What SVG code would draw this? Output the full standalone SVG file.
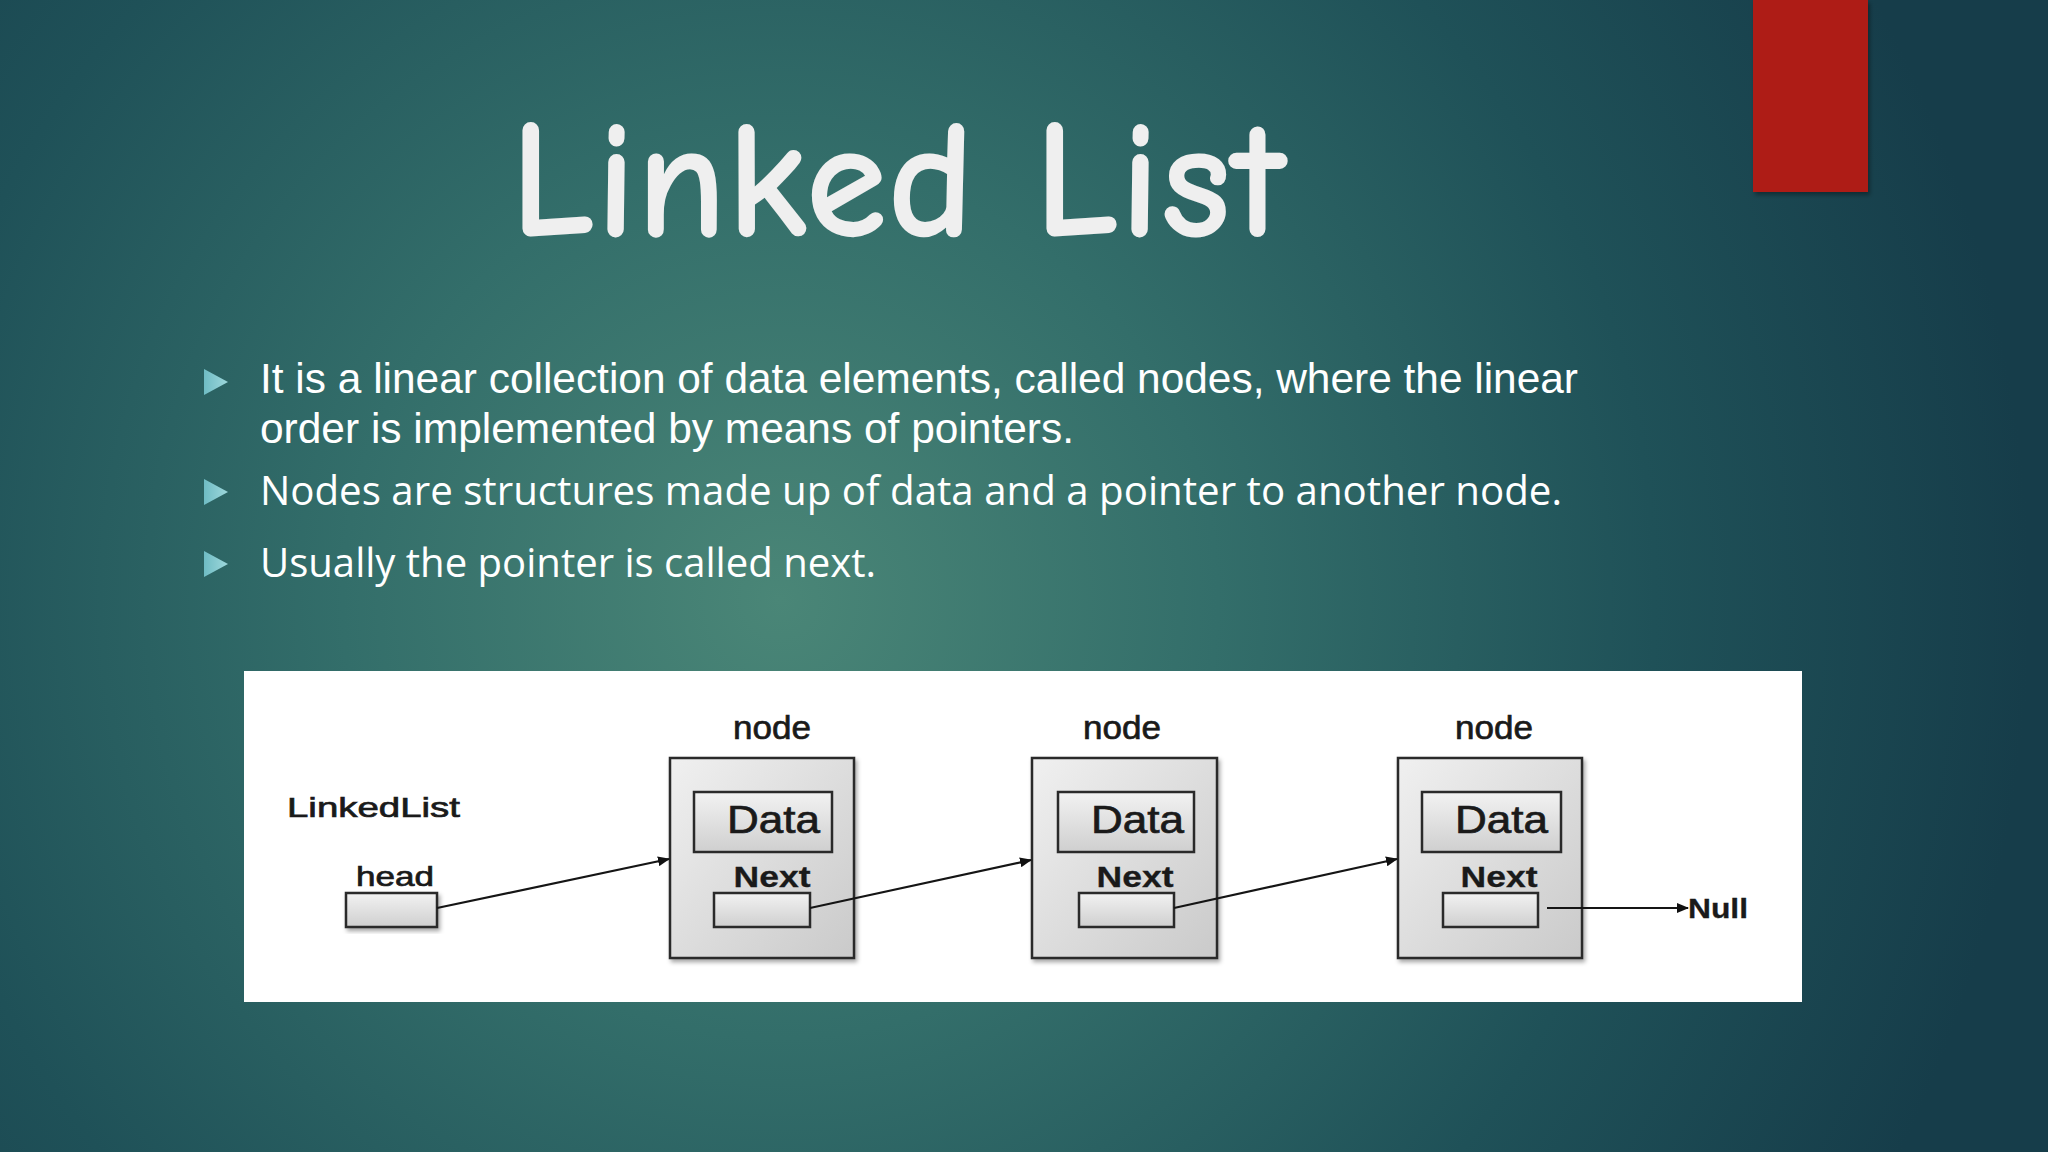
<svg xmlns="http://www.w3.org/2000/svg" width="2048" height="1152" viewBox="0 0 2048 1152">
  <defs>
    <radialGradient id="bg" cx="780" cy="600" r="1250" gradientUnits="userSpaceOnUse">
      <stop offset="0" stop-color="#4a8677"/>
      <stop offset="0.35" stop-color="#336e6a"/>
      <stop offset="0.7" stop-color="#1f5158"/>
      <stop offset="1" stop-color="#163d4a"/>
    </radialGradient>
    <linearGradient id="boxg" x1="0" y1="0" x2="1" y2="1">
      <stop offset="0" stop-color="#f0f0f0"/>
      <stop offset="1" stop-color="#cacaca"/>
    </linearGradient>
    <linearGradient id="smallg" x1="0" y1="0" x2="0" y2="1">
      <stop offset="0" stop-color="#f2f2f2"/>
      <stop offset="1" stop-color="#cfcfcf"/>
    </linearGradient>
    <linearGradient id="bullet" x1="0" y1="0" x2="1" y2="0">
      <stop offset="0" stop-color="#6fbcc4"/>
      <stop offset="1" stop-color="#9fd8dc"/>
    </linearGradient>
    <marker id="arr" viewBox="0 0 12 10" refX="11" refY="5" markerWidth="12" markerHeight="10" markerUnits="userSpaceOnUse" orient="auto">
      <path d="M0,0 L12,5 L0,10 z" fill="#111"/>
    </marker>
    <filter id="sh" x="-10%" y="-10%" width="130%" height="130%">
      <feDropShadow dx="2" dy="3" stdDeviation="2" flood-color="#000" flood-opacity="0.35"/>
    </filter>
  </defs>
  <style>
    .title { font-family: "Comic Sans MS", "Comic Neue", "DejaVu Sans", sans-serif; font-size: 168px; font-weight: bold; fill: #efefef; }
    .b1 { font-family: "Liberation Sans", Arial, sans-serif; font-size: 42px; fill: #ffffff; }
    .b2 { font-family: "Open Sans", "Noto Sans", sans-serif; font-size: 41px; fill: #ffffff; }
    .lbl { font-family: "Liberation Sans", Arial, sans-serif; fill: #1a1a1a; stroke: #1a1a1a; stroke-width: 0.7; }
    .bold { font-weight: bold; stroke-width: 0.3; }
    .outer { fill: url(#boxg); stroke: #2a2a2a; stroke-width: 2.5; }
    .inner { fill: url(#smallg); stroke: #2a2a2a; stroke-width: 2.5; }
    .conn { stroke: #151515; stroke-width: 2.2; fill: none; marker-end: url(#arr); }
  </style>

  <rect width="2048" height="1152" fill="url(#bg)"/>

  <g id="accent">
    <rect x="1753" y="0" width="115" height="192" fill="#ae1a14" filter="url(#sh)"/>
  </g>

  <g id="title">
    <text class="title" x="510" y="236" textLength="776" lengthAdjust="spacingAndGlyphs">Linked List</text>
  </g>

  <g id="bullets">
    <polygon points="204,369 228,382 204,395" fill="url(#bullet)"/>
    <text class="b1" x="260" y="393" textLength="1318" lengthAdjust="spacingAndGlyphs">It is a linear collection of data elements, called nodes, where the linear</text>
    <text class="b1" x="260" y="443" textLength="814" lengthAdjust="spacingAndGlyphs">order is implemented by means of pointers.</text>
    <polygon points="204,479 228,492 204,505" fill="url(#bullet)"/>
    <text class="b2" x="260" y="505" textLength="1302" lengthAdjust="spacingAndGlyphs">Nodes are structures made up of data and a pointer to another node.</text>
    <polygon points="204,551 228,564 204,577" fill="url(#bullet)"/>
    <text class="b2" x="260" y="577" textLength="616" lengthAdjust="spacingAndGlyphs">Usually the pointer is called next.</text>
  </g>

  <g id="panel">
    <rect x="244" y="671" width="1558" height="331" fill="#ffffff"/>
  </g>

  <g id="linkedlist">
    <text class="lbl" x="287" y="817" font-size="28" textLength="173" lengthAdjust="spacingAndGlyphs">LinkedList</text>
    <text class="lbl" x="356" y="886" font-size="28" textLength="78" lengthAdjust="spacingAndGlyphs">head</text>
    <rect class="inner" x="346" y="893" width="91" height="34" filter="url(#sh)"/>
  </g>

  <g id="node1">
    <text class="lbl" x="772" y="739" font-size="33" text-anchor="middle" textLength="78" lengthAdjust="spacingAndGlyphs">node</text>
    <rect class="outer" x="670" y="758" width="184" height="200" filter="url(#sh)"/>
    <rect class="inner" x="694" y="792" width="138" height="60"/>
    <text class="lbl" x="727" y="833" font-size="38" textLength="93" lengthAdjust="spacingAndGlyphs">Data</text>
    <text class="lbl bold" x="772" y="887" font-size="30" text-anchor="middle" textLength="77" lengthAdjust="spacingAndGlyphs">Next</text>
    <rect class="inner" x="714" y="893" width="96" height="34"/>
  </g>

  <g id="node2">
    <text class="lbl" x="1122" y="739" font-size="33" text-anchor="middle" textLength="78" lengthAdjust="spacingAndGlyphs">node</text>
    <rect class="outer" x="1032" y="758" width="185" height="200" filter="url(#sh)"/>
    <rect class="inner" x="1058" y="792" width="136" height="60"/>
    <text class="lbl" x="1091" y="833" font-size="38" textLength="93" lengthAdjust="spacingAndGlyphs">Data</text>
    <text class="lbl bold" x="1135" y="887" font-size="30" text-anchor="middle" textLength="77" lengthAdjust="spacingAndGlyphs">Next</text>
    <rect class="inner" x="1079" y="893" width="95" height="34"/>
  </g>

  <g id="node3">
    <text class="lbl" x="1494" y="739" font-size="33" text-anchor="middle" textLength="78" lengthAdjust="spacingAndGlyphs">node</text>
    <rect class="outer" x="1398" y="758" width="184" height="200" filter="url(#sh)"/>
    <rect class="inner" x="1422" y="792" width="139" height="60"/>
    <text class="lbl" x="1455" y="833" font-size="38" textLength="93" lengthAdjust="spacingAndGlyphs">Data</text>
    <text class="lbl bold" x="1499" y="887" font-size="30" text-anchor="middle" textLength="77" lengthAdjust="spacingAndGlyphs">Next</text>
    <rect class="inner" x="1443" y="893" width="95" height="34"/>
  </g>

  <g id="null">
    <text class="lbl bold" x="1688" y="918" font-size="28" textLength="60" lengthAdjust="spacingAndGlyphs">Null</text>
  </g>

  <g id="connectors">
    <line class="conn" x1="437" y1="908" x2="669" y2="859"/>
    <line class="conn" x1="810" y1="908" x2="1031" y2="860"/>
    <line class="conn" x1="1174" y1="908" x2="1397" y2="859"/>
    <line class="conn" x1="1547" y1="908" x2="1688" y2="908"/>
  </g>
</svg>
